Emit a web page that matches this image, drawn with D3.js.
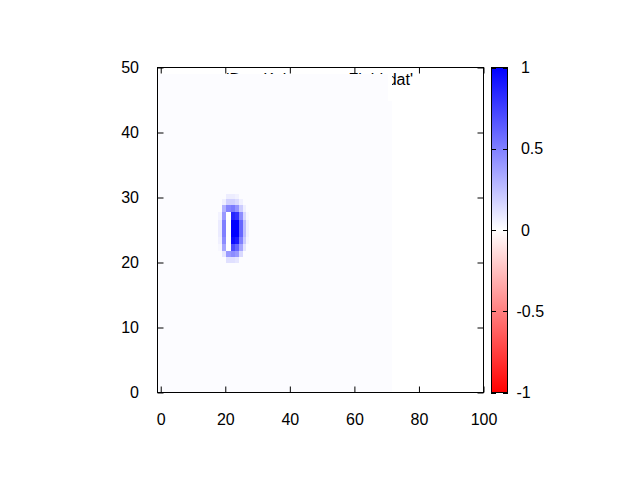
<!DOCTYPE html>
<html><head><meta charset="utf-8">
<script src="https://cdn.jsdelivr.net/npm/d3@7"></script>
<style>
body{margin:0;background:#fff}
text{font-family:"Liberation Sans",Arial,sans-serif;font-size:16px;white-space:pre;fill:#000}
</style>
</head><body><svg id="c" width="640" height="480"></svg>
<script>
// ---- data ----
const xTicks = [0, 20, 40, 60, 80, 100];
const yTicks = [0, 10, 20, 30, 40, 50];
const cbTicks = [-1, -0.5, 0, 0.5, 1];
const xDomain = [-1, 100];
const yDomain = [0, 50];
const cbDomain = [-1, 0, 1];
const paletteColors = ["#ff0000", "#ffffff", "#0000ff"];
const keyTitle = "'DataKolmogorovField.dat'";
// field extent (data units) and its near-uniform value
const fieldX = [-1, 71.7];
const fieldY = [0, 49.0];
const fieldValue = 0.011;
// blob: cell edges in data units, values bottom row first
const blobXEdges = [17.6, 18.9, 20.2, 21.7, 23.0, 24.4, 25.4, 26.4, 27.4];
const blobYEdges = [20.0, 20.8, 21.8, 22.9, 24.0, 26.5, 27.8, 28.9, 29.8, 30.6];
const blobValues = [
  [0.011, 0.011, 0.12, 0.12, 0.10, 0.011, 0.011, 0.011],
  [0.011, 0.10, 0.40, 0.45, 0.40, 0.15, 0.011, 0.011],
  [0.03, 0.35, 0.00, 0.70, 0.60, 0.35, 0.10, 0.011],
  [0.06, 0.45, 0.00, 0.95, 0.90, 0.50, 0.20, 0.04],
  [0.08, 0.50, 0.00, 1.00, 1.00, 0.60, 0.25, 0.06],
  [0.05, 0.40, 0.00, 0.85, 0.80, 0.45, 0.15, 0.03],
  [0.011, 0.30, 0.48, 0.52, 0.42, 0.20, 0.06, 0.011],
  [0.011, 0.06, 0.18, 0.18, 0.14, 0.06, 0.011, 0.011],
  [0.011, 0.011, 0.07, 0.07, 0.05, 0.011, 0.011, 0.011]
];
// extra cells [x0, x1, y0, y1, value]
const extraCells = [[70.5, 71.7, 44.8, 49.0, 0]];

// ---- layout ----
const svg = d3.select("#c");
const L = 157.5, R = 483.5, T = 67.5, B = 392.5;
const x = d3.scaleLinear().domain(xDomain).range([L, R]);
const y = d3.scaleLinear().domain(yDomain).range([B, T]);
const color = d3.scaleLinear().domain(cbDomain).range(paletteColors).clamp(true);

// key text (drawn first, heatmap covers it)
svg.append("text").attr("x", 413).attr("y", 85).attr("text-anchor", "end").text(keyTitle);

// heatmap
const g = svg.append("g").attr("shape-rendering", "crispEdges");
g.append("rect")
  .attr("x", x(fieldX[0])).attr("width", x(fieldX[1]) - x(fieldX[0]))
  .attr("y", y(fieldY[1])).attr("height", y(fieldY[0]) - y(fieldY[1]))
  .attr("fill", color(fieldValue));
const cells = [];
blobValues.forEach((row, j) => row.forEach((v, i) => {
  cells.push([blobXEdges[i], blobXEdges[i + 1], blobYEdges[j], blobYEdges[j + 1], v]);
}));
extraCells.forEach(c => cells.push(c));
g.selectAll("rect.cell").data(cells).join("rect").attr("class", "cell")
  .attr("x", d => x(d[0])).attr("width", d => x(d[1]) - x(d[0]))
  .attr("y", d => y(d[3])).attr("height", d => y(d[2]) - y(d[3]))
  .attr("fill", d => color(d[4]));

// frame
svg.append("rect").attr("x", L).attr("y", T).attr("width", R - L).attr("height", B - T)
  .attr("fill", "none").attr("stroke", "#000").attr("stroke-width", 1);

// axes (ticks inward, mirrored)
const tl = 6;
const fmtAxis = d => String(d);
svg.append("g").attr("transform", `translate(0,${B})`)
  .call(d3.axisBottom(x).tickValues(xTicks).tickSizeInner(-tl).tickSizeOuter(0).tickPadding(21.5).tickFormat(fmtAxis))
  .call(a => a.select(".domain").remove());
svg.append("g").attr("transform", `translate(0,${T})`)
  .call(d3.axisTop(x).tickValues(xTicks).tickSizeInner(-tl).tickSizeOuter(0).tickFormat(""))
  .call(a => a.select(".domain").remove());
svg.append("g").attr("transform", `translate(${L},0)`)
  .call(d3.axisLeft(y).tickValues(yTicks).tickSizeInner(-tl).tickSizeOuter(0).tickPadding(18.5).tickFormat(fmtAxis))
  .call(a => a.select(".domain").remove());
svg.append("g").attr("transform", `translate(${R},0)`)
  .call(d3.axisRight(y).tickValues(yTicks).tickSizeInner(-tl).tickSizeOuter(0).tickFormat(""))
  .call(a => a.select(".domain").remove());
svg.selectAll(".tick text").attr("font-size", null).attr("font-family", null).style("font-size", "16px");
svg.selectAll(".tick line").attr("stroke", "#000");

// colorbar
const cbL = 491, cbR = 508;
const cy = d3.scaleLinear().domain([cbDomain[0], cbDomain[2]]).range([B, T]);
const defs = svg.append("defs");
const grad = defs.append("linearGradient").attr("id", "cbg")
  .attr("x1", 0).attr("y1", 1).attr("x2", 0).attr("y2", 0);
cbDomain.forEach((v, i) => grad.append("stop")
  .attr("offset", (v - cbDomain[0]) / (cbDomain[2] - cbDomain[0]))
  .attr("stop-color", paletteColors[i]));
svg.append("rect").attr("x", cbL).attr("y", T).attr("width", cbR - cbL).attr("height", B - T)
  .attr("fill", "url(#cbg)");
svg.append("rect").attr("x", cbL + 0.5).attr("y", T).attr("width", cbR - cbL - 1).attr("height", B - T)
  .attr("fill", "none").attr("stroke", "#000");
const cbt = 5;
svg.append("g").selectAll("line.cl").data(cbTicks).join("line")
  .attr("x1", cbL).attr("x2", cbL + cbt).attr("y1", d => Math.round(cy(d)) + 0.5).attr("y2", d => Math.round(cy(d)) + 0.5)
  .attr("stroke", "#000");
svg.append("g").selectAll("line.cr").data(cbTicks).join("line")
  .attr("x1", cbR - cbt).attr("x2", cbR).attr("y1", d => Math.round(cy(d)) + 0.5).attr("y2", d => Math.round(cy(d)) + 0.5)
  .attr("stroke", "#000");
svg.append("g").selectAll("text").data(cbTicks).join("text")
  .attr("x", 516.5).attr("y", d => cy(d)).attr("dy", "0.35em")
  .text(d => (d >= 0 ? " " : "-") + String(Math.abs(d)));
</script>
</body></html>
